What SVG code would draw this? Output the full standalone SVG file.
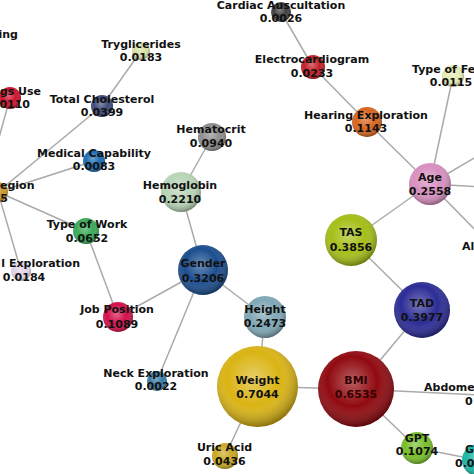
<svg xmlns="http://www.w3.org/2000/svg" width="474" height="474" viewBox="0 0 474 474">
<defs>
<radialGradient id="shade" cx="45%" cy="40%" r="60%">
<stop offset="0" stop-color="#fff" stop-opacity="0.35"/>
<stop offset="0.55" stop-color="#fff" stop-opacity="0"/>
<stop offset="1" stop-color="#000" stop-opacity="0.35"/>
</radialGradient>
</defs>
<style>
.e{stroke:#aaa;stroke-width:1.5;fill:none}
.h{fill:url(#shade)}
.t{font-family:"DejaVu Sans","Liberation Sans",sans-serif;font-weight:bold;font-size:11px;fill:#111;text-anchor:middle}
.s{text-anchor:start}
.n{text-anchor:end}
</style>
<rect width="474" height="474" fill="#fff"/>
<g id="edges">
<line class="e" x1="281" y1="12" x2="313" y2="67"/>
<line class="e" x1="313" y1="67" x2="367" y2="122"/>
<line class="e" x1="367" y1="122" x2="430" y2="184"/>
<line class="e" x1="453" y1="76" x2="430" y2="184"/>
<line class="e" x1="430" y1="184" x2="500" y2="143"/>
<line class="e" x1="430" y1="184" x2="500" y2="188"/>
<line class="e" x1="430" y1="184" x2="500" y2="255"/>
<line class="e" x1="430" y1="184" x2="351" y2="240"/>
<line class="e" x1="351" y1="240" x2="422" y2="310"/>
<line class="e" x1="422" y1="310" x2="356" y2="389"/>
<line class="e" x1="356" y1="389" x2="500" y2="396"/>
<line class="e" x1="356" y1="389" x2="417" y2="448"/>
<line class="e" x1="417" y1="448" x2="478" y2="460"/>
<line class="e" x1="257.5" y1="386.5" x2="356" y2="389"/>
<line class="e" x1="257.5" y1="386.5" x2="265" y2="317"/>
<line class="e" x1="257.5" y1="386.5" x2="225" y2="456"/>
<line class="e" x1="203" y1="270" x2="265" y2="317"/>
<line class="e" x1="203" y1="270" x2="181" y2="192"/>
<line class="e" x1="181" y1="192" x2="212" y2="137"/>
<line class="e" x1="203" y1="270" x2="118" y2="317"/>
<line class="e" x1="203" y1="270" x2="157" y2="381"/>
<line class="e" x1="86" y1="231" x2="118" y2="317"/>
<line class="e" x1="-2" y1="192" x2="86" y2="231"/>
<line class="e" x1="-2" y1="192" x2="94" y2="161"/>
<line class="e" x1="-2" y1="192" x2="102" y2="106"/>
<line class="e" x1="-2" y1="192" x2="21" y2="271"/>
<line class="e" x1="10" y1="98" x2="-3" y2="145"/>
<line class="e" x1="102" y1="106" x2="141" y2="51"/>
</g>
<g id="n-cardiac"><circle cx="281" cy="12" r="10" fill="#404040"/><circle class="h" cx="281" cy="12" r="10"/><text class="t" x="281" y="9">Cardiac Auscultation</text><text class="t" x="281" y="22">0.0026</text></g>
<g id="n-electro"><circle cx="313" cy="67" r="12" fill="#c42028"/><circle class="h" cx="313" cy="67" r="12"/><text class="t" x="312" y="63">Electrocardiogram</text><text class="t" x="312" y="77">0.0233</text></g>
<g id="n-hearing"><circle cx="367" cy="122" r="15" fill="#d8661e"/><circle class="h" cx="367" cy="122" r="15"/><text class="t" x="366" y="119">Hearing Exploration</text><text class="t" x="366" y="132">0.1143</text></g>
<g id="n-typefe"><circle cx="453" cy="76" r="11" fill="#e6eab4"/><circle class="h" cx="453" cy="76" r="11"/><text class="t s" x="412" y="73">Type of Fe</text><text class="t" x="451" y="86">0.0115</text></g>
<g id="n-ing"><text class="t n" x="18" y="38">ing</text></g>
<g id="n-tryg"><circle cx="141" cy="51" r="9" fill="#d8e0a4"/><circle class="h" cx="141" cy="51" r="9"/><text class="t" x="141" y="47.5">Tryglicerides</text><text class="t" x="141" y="61">0.0183</text></g>
<g id="n-drugs"><circle cx="10" cy="98" r="11" fill="#d0142e"/><circle class="h" cx="10" cy="98" r="11"/><text class="t n" x="41" y="94.5">gs Use</text><text class="t n" x="30" y="108">0110</text></g>
<g id="n-totchol"><circle cx="102" cy="106" r="11" fill="#3e4c7c"/><circle class="h" cx="102" cy="106" r="11"/><text class="t" x="102" y="102.5">Total Cholesterol</text><text class="t" x="102" y="116">0.0399</text></g>
<g id="n-medcap"><circle cx="94" cy="161" r="11" fill="#1e6cb2"/><circle class="h" cx="94" cy="161" r="11"/><text class="t" x="94" y="157">Medical Capability</text><text class="t" x="94" y="170">0.0083</text></g>
<g id="n-region"><circle cx="-2" cy="192" r="10" fill="#c8982c"/><circle class="h" cx="-2" cy="192" r="10"/><text class="t s" x="0" y="189">egion</text><text class="t n" x="8" y="202">5</text></g>
<g id="n-typework"><circle cx="86" cy="231" r="13" fill="#3aaa58"/><circle class="h" cx="86" cy="231" r="13"/><text class="t" x="87" y="228">Type of Work</text><text class="t" x="87" y="242">0.0652</text></g>
<g id="n-lexpl"><circle cx="21" cy="271" r="10" fill="#e0d2e8"/><circle class="h" cx="21" cy="271" r="10"/><text class="t n" x="80" y="267">l Exploration</text><text class="t" x="24" y="281">0.0184</text></g>
<g id="n-jobpos"><circle cx="118" cy="317" r="15" fill="#d4104a"/><circle class="h" cx="118" cy="317" r="15"/><text class="t" x="117" y="313">Job Position</text><text class="t" x="117" y="328">0.1089</text></g>
<g id="n-neck"><circle cx="157" cy="381" r="10" fill="#3a7ca6"/><circle class="h" cx="157" cy="381" r="10"/><text class="t" x="156" y="377">Neck Exploration</text><text class="t" x="156" y="390">0.0022</text></g>
<g id="n-hematocrit"><circle cx="212" cy="137" r="14" fill="#8e8e8e"/><circle class="h" cx="212" cy="137" r="14"/><text class="t" x="211" y="133">Hematocrit</text><text class="t" x="211" y="147">0.0940</text></g>
<g id="n-hemoglobin"><circle cx="181" cy="192" r="20" fill="#b8d4b6"/><circle class="h" cx="181" cy="192" r="20"/><text class="t" x="180" y="189">Hemoglobin</text><text class="t" x="180" y="203">0.2210</text></g>
<g id="n-gender"><circle cx="203" cy="270" r="25" fill="#1c4e8e"/><circle class="h" cx="203" cy="270" r="25"/><text class="t" x="203" y="267">Gender</text><text class="t" x="203" y="282">0.3206</text></g>
<g id="n-height"><circle cx="265" cy="317" r="21" fill="#80a8b6"/><circle class="h" cx="265" cy="317" r="21"/><text class="t" x="265" y="313">Height</text><text class="t" x="265" y="327">0.2473</text></g>
<g id="n-weight"><circle cx="257.5" cy="386.5" r="40.5" fill="#dab414"/><circle class="h" cx="257.5" cy="386.5" r="40.5"/><text class="t" x="257.5" y="384">Weight</text><text class="t" x="257.5" y="398">0.7044</text></g>
<g id="n-uric"><circle cx="225" cy="456" r="13" fill="#caa824"/><circle class="h" cx="225" cy="456" r="13"/><text class="t" x="224.5" y="451">Uric Acid</text><text class="t" x="224.5" y="465">0.0436</text></g>
<g id="n-bmi"><circle cx="356" cy="389" r="38" fill="#900a10"/><circle class="h" cx="356" cy="389" r="38"/><text class="t" x="356" y="384" style="fill:#300">BMI</text><text class="t" x="356" y="398" style="fill:#300">0.6535</text></g>
<g id="n-tad"><circle cx="422" cy="310" r="28" fill="#2c2c96"/><circle class="h" cx="422" cy="310" r="28"/><text class="t" x="422" y="307">TAD</text><text class="t" x="422" y="321">0.3977</text></g>
<g id="n-tas"><circle cx="351" cy="240" r="26" fill="#a6be18"/><circle class="h" cx="351" cy="240" r="26"/><text class="t" x="351" y="236">TAS</text><text class="t" x="351" y="251">0.3856</text></g>
<g id="n-age"><circle cx="430" cy="184" r="21" fill="#d890c0"/><circle class="h" cx="430" cy="184" r="21"/><text class="t" x="430" y="181">Age</text><text class="t" x="430" y="195">0.2558</text></g>
<g id="n-al"><text class="t s" x="462" y="250">Al</text></g>
<g id="n-abdome"><text class="t s" x="424" y="391">Abdome</text><text class="t s" x="465" y="405">0</text></g>
<g id="n-gpt"><circle cx="417" cy="448" r="16" fill="#78be2a"/><circle class="h" cx="417" cy="448" r="16"/><text class="t" x="417" y="442">GPT</text><text class="t" x="417" y="455">0.1074</text></g>
<g id="n-ggt"><circle cx="478" cy="460" r="16" fill="#1cb6a6"/><circle class="h" cx="478" cy="460" r="16"/><text class="t s" x="465" y="453">G</text><text class="t s" x="455" y="467">0.0</text></g>
</svg>
